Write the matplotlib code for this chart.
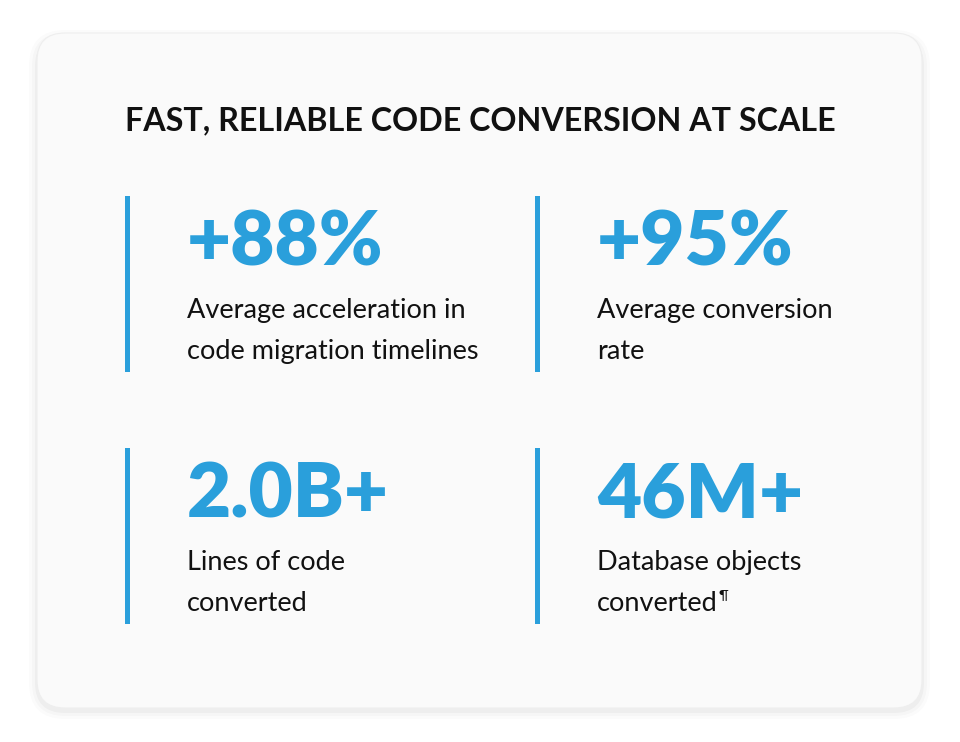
import matplotlib
matplotlib.use("Agg")
import matplotlib.pyplot as plt
from matplotlib.patches import FancyBboxPatch, Rectangle

title = "FAST, RELIABLE CODE CONVERSION AT SCALE"
values = ["+88%", "+95%", "2.0B+", "46M+"]
labels = [["Average acceleration in", "code migration timelines"],
          ["Average conversion", "rate"],
          ["Lines of code", "converted"],
          ["Database objects", "converted"]]
marks = ["", "", "", "\u00b6"]

BLUE = "#2A9FDB"
fig = plt.figure(figsize=(9.6, 7.42), dpi=100)
ax = fig.add_axes([0, 0, 1, 1])
ax.set_xlim(0, 960); ax.set_ylim(742, 0); ax.axis("off")
fig.patch.set_facecolor("white")

for i, a in enumerate([0.015, 0.02, 0.03]):
    d = 8 - i * 3
    ax.add_patch(FancyBboxPatch((37 - d, 35 - d + 3), 885 + 2 * d, 673 + 2 * d,
                                boxstyle="round,pad=0,rounding_size=%d" % (28 + d),
                                fc="black", ec="none", alpha=a))
ax.add_patch(FancyBboxPatch((37, 33), 885, 675, boxstyle="round,pad=0,rounding_size=28",
                            fc="#FAFAFA", ec="#EEEEEE", lw=0.8))

ax.text(480, 121, title, ha="center", va="center", fontsize=23.2,
        fontweight="bold", family="Lato", color="#111111")

xs = [125, 535]
ys = [196, 448]
fig.canvas.draw()
r = fig.canvas.get_renderer()
for i, (v, l) in enumerate(zip(values, labels)):
    x = xs[i % 2]; y = ys[i // 2]
    ax.add_patch(Rectangle((x, y), 5, 176, fc=BLUE, ec="none"))
    ax.text(x + 62, y + 70, v, ha="left", va="baseline", fontsize=55,
            fontweight="heavy", family="Lato", color=BLUE)
    for j, line in enumerate(l):
        t = ax.text(x + 62, y + 122 + 41 * j, line, ha="left", va="baseline",
                    fontsize=19.5, family="Lato", color="#111111")
    if marks[i]:
        bb = t.get_window_extent(r)
        xe = ax.transData.inverted().transform((bb.x1, bb.y0))[0]
        ax.text(xe + 1, y + 122 + 41 - 12, marks[i], ha="left", va="baseline",
                fontsize=10, family="Lato", color="#111111")

fig.savefig("out.png", dpi=100, facecolor="white")
